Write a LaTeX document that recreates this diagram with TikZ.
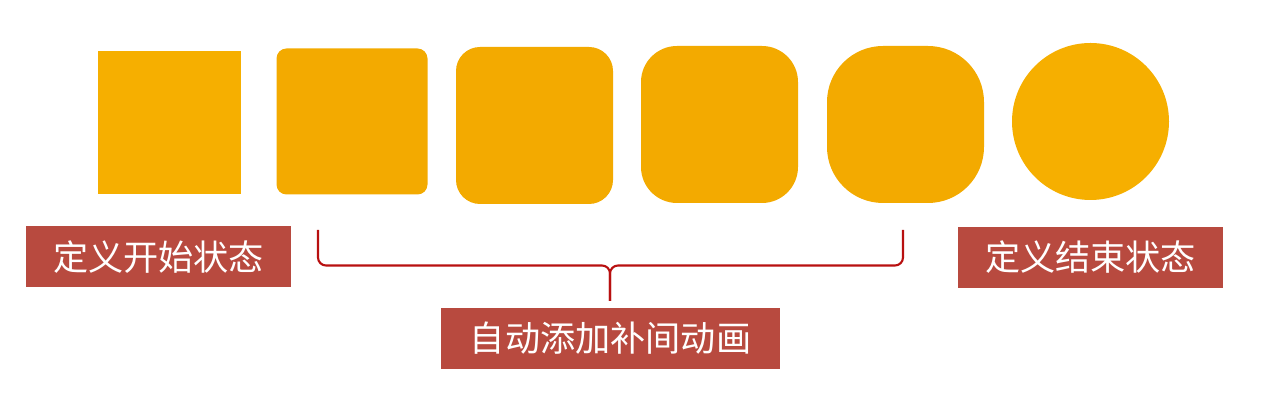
\documentclass[tikz,border=0pt]{standalone}
\usepackage{fontspec}
\newfontfamily\cjk{Noto Sans CJK SC}
\usetikzlibrary{positioning}
\definecolor{amber}{HTML}{F3AA00}
\definecolor{amberlight}{HTML}{F6AF00}
\definecolor{brick}{HTML}{B84A3F}
\definecolor{bracered}{HTML}{B81010}
\tikzset{%
  tile/.style={fill=amber, draw=none, inner sep=0pt, minimum width=157*0.01cm, minimum height=157*0.01cm},
  stage/.style={fill=brick, draw=none, text=white, font=\cjk\fontsize{10}{12}\selectfont, inner sep=0pt, minimum height=61*0.01cm},
  bracket/.style={draw=bracered, line width=0.6pt, rounded corners=0.08cm},
}

\begin{document}
\begin{tikzpicture}[x=0.01cm, y=-0.01cm]
  \useasboundingbox (0,0) rectangle (1263,410);

  % shapes: square to circle
  \node (s1) [tile, fill=amberlight, minimum width=143*0.01cm, minimum height=143*0.01cm] at (169.5,122.5) {};
  \node (s2) [tile, minimum width=151*0.01cm, minimum height=146*0.01cm, rounded corners=0.1cm] at (352,121.5) {};
  \node (s3) [tile, rounded corners=0.24cm] at (534.5,125.5) {};
  \node (s4) [tile, rounded corners=0.36cm] at (719.5,124.5) {};
  \node (s5) [tile, rounded corners=0.56cm] at (905.5,124.5) {};
  \node (s6) [tile, fill=amberlight, circle] at (1090.5,121.5) {};

  % labels
  \node (start) [stage, minimum width=265*0.01cm] at (158.5,257) {定义开始状态};
  \node (finish) [stage, minimum width=265*0.01cm] at (1090.5,257.5) {定义结束状态};
  \node (tween) [stage, minimum width=339*0.01cm] at (610.5,338.5) {自动添加补间动画};

  % brace
  \coordinate (braceL) at (318,230);
  \coordinate (braceR) at (903,230);
  \coordinate (bar) at (610,265.5);
  \coordinate (tip) at (610,301);
  \draw [bracket] (braceL) |- (bar) -- (tip);
  \draw [bracket] (braceR) |- (bar) -- (tip);
\end{tikzpicture}
\end{document}
